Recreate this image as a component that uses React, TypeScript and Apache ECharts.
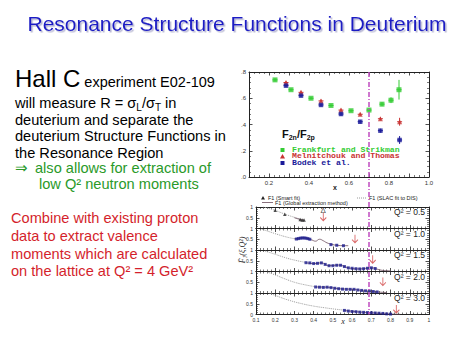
import React, { useEffect, useRef } from 'react';
import * as echarts from 'echarts';

const TITLE = 'Resonance Structure Functions in Deuterium';

// ---- Top chart: F2n/F2p vs x ----
const fsX = [0.23, 0.31, 0.41, 0.51, 0.61, 0.70, 0.765, 0.81, 0.85];
const fsY = [0.74, 0.665, 0.6, 0.545, 0.505, 0.51, 0.555, 0.585, 0.665];
const fsErr = [0.012, 0.01, 0.01, 0.01, 0.01, 0.012, 0.015, 0.022, 0.075];
const mtX = [0.285, 0.36, 0.46, 0.56, 0.656, 0.757, 0.853];
const mtY = [0.72, 0.645, 0.58, 0.51, 0.478, 0.444, 0.421];
const mtErr = [0.012, 0.012, 0.012, 0.012, 0.012, 0.012, 0.03];
const bdX = [0.285, 0.36, 0.46, 0.56, 0.656, 0.757, 0.853];
const bdY = [0.696, 0.62, 0.549, 0.48, 0.421, 0.353, 0.282];
const bdErr = [0.012, 0.012, 0.012, 0.014, 0.014, 0.015, 0.03];
const topLegend = ['Frankfurt and Strikman', 'Melnitchouk and Thomas', 'Bodek et al.'];
const deltaLineX = 0.7;

// ---- Bottom chart: F1 panels ----
const q2Values = ['0.5', '1.0', '1.5', '2.0', '3.0'];
const slacQ05 = [[0.138, 1.0], [0.16, 0.95], [0.2, 0.84], [0.25, 0.67], [0.3, 0.52], [0.35, 0.39]];
const globalQ05 = [[0.3, 0.5], [0.33, 0.42], [0.35, 0.39]];
const dataQ05 = [[0.2, 0.85], [0.25, 0.66], [0.33, 0.42], [0.34, 0.4], [0.35, 0.39]];

const slacQ10 = [[0.13, 0.97], [0.16, 0.88], [0.2, 0.76], [0.24, 0.65], [0.28, 0.56], [0.31, 0.51]];
const globalQ10 = [[0.3, 0.52], [0.32, 0.54], [0.345, 0.57], [0.37, 0.53], [0.39, 0.47], [0.41, 0.41], [0.43, 0.5], [0.45, 0.43], [0.47, 0.33], [0.5, 0.25], [0.52, 0.22], [0.56, 0.2], [0.58, 0.2]];
const dataQ10 = [[0.31, 0.51], [0.32, 0.53], [0.33, 0.55], [0.34, 0.56], [0.35, 0.56], [0.36, 0.55], [0.37, 0.53], [0.38, 0.5], [0.49, 0.25], [0.52, 0.22], [0.555, 0.2]];

const slacQ15 = [[0.147, 0.95], [0.2, 0.8], [0.25, 0.65], [0.3, 0.53], [0.36, 0.42]];
const globalQ15 = [[0.36, 0.41], [0.4, 0.37], [0.44, 0.4], [0.48, 0.27], [0.53, 0.3], [0.58, 0.17], [0.64, 0.12], [0.7, 0.17], [0.73, 0.11], [0.76, 0.05], [0.8, 0.03]];
const dataQ15 = [[0.36, 0.41], [0.38, 0.4], [0.4, 0.37], [0.42, 0.38], [0.44, 0.4], [0.46, 0.33], [0.48, 0.27], [0.5, 0.27], [0.52, 0.29], [0.54, 0.29], [0.56, 0.23], [0.58, 0.17], [0.6, 0.15], [0.62, 0.13], [0.64, 0.12], [0.66, 0.13], [0.68, 0.15], [0.7, 0.17], [0.72, 0.14]];

const slacQ20 = [[0.16, 0.97], [0.2, 0.84], [0.25, 0.66], [0.3, 0.5], [0.35, 0.39], [0.41, 0.29]];
const globalQ20 = [[0.41, 0.28], [0.47, 0.27], [0.53, 0.2], [0.6, 0.17], [0.67, 0.1], [0.73, 0.05], [0.78, 0.02]];
const dataQ20 = [[0.41, 0.28], [0.43, 0.27], [0.45, 0.26], [0.47, 0.27], [0.49, 0.25], [0.51, 0.22], [0.53, 0.2], [0.55, 0.18], [0.57, 0.17], [0.59, 0.17], [0.61, 0.17], [0.63, 0.14], [0.65, 0.12], [0.67, 0.1], [0.69, 0.09], [0.71, 0.07], [0.73, 0.05]];

const slacQ30 = [[0.17, 1.0], [0.22, 0.82], [0.28, 0.64], [0.34, 0.5], [0.4, 0.39], [0.46, 0.31], [0.52, 0.24], [0.56, 0.2]];
const globalQ30 = [[0.56, 0.19], [0.62, 0.13], [0.7, 0.08], [0.8, 0.02], [0.85, 0.01]];
const dataQ30 = [[0.56, 0.19], [0.58, 0.16], [0.6, 0.14], [0.62, 0.13], [0.64, 0.11], [0.66, 0.1], [0.68, 0.09], [0.7, 0.08], [0.72, 0.07], [0.74, 0.06], [0.76, 0.05], [0.78, 0.03], [0.8, 0.02]];

const arrowX = [0.45, 0.615, 0.707, 0.76, 0.83];
const arrowY = [0.55, 0.52, 0.57, 0.53, 0.26];
const deltaMarkX = 0.45;
const deltaMarkY = 0.86;

const slacSets = [slacQ05, slacQ10, slacQ15, slacQ20, slacQ30];
const globalSets = [globalQ05, globalQ10, globalQ15, globalQ20, globalQ30];
const dataSets = [dataQ05, dataQ10, dataQ15, dataQ20, dataQ30];

const SANS = '"Liberation Sans", Arial, sans-serif';
const SERIF = '"Liberation Serif", "DejaVu Serif", serif';
const MONO = '"Liberation Mono", "DejaVu Sans Mono", monospace';

let mctx: CanvasRenderingContext2D | null = null;
function textW(t: string, size: number, family: string, weight = 'normal') {
  if (!mctx) mctx = document.createElement('canvas').getContext('2d');
  mctx!.font = `${weight} ${size}px ${family}`;
  return mctx!.measureText(t).width;
}
type Part = { t: string; size: number; dy?: number };
function inline(x: number, y: number, parts: Part[], color: string, family = SANS, weight = 'normal') {
  const els: any[] = [];
  let cx = x;
  for (const p of parts) {
    els.push({
      type: 'text', x: cx, y: y + (p.dy || 0), silent: true,
      style: { text: p.t, fontSize: p.size, lineHeight: Math.round(p.size * 0.85), fontFamily: family, fontWeight: weight, fill: color, align: 'left', verticalAlign: 'middle' },
    });
    cx += textW(p.t, p.size, family, weight);
  }
  return els;
}
function txt(x: number, y: number, t: string, size: number, color: string, extra: any = {}) {
  return {
    type: 'text', x, y, silent: true,
    style: { text: t, fontSize: size, lineHeight: Math.round(size * 0.9), fontFamily: SANS, fill: color, align: 'left', verticalAlign: 'middle', ...extra },
  };
}

const AX = '#222';
function xAx(gridIndex: number, position: string, show: boolean, formatter: any, minorSplit: number, fontSize: number) {
  return {
    type: 'value', gridIndex, position, min: 0.1, max: 1.0, interval: 0.1,
    axisLine: { show: true, onZero: false, lineStyle: { color: AX, width: 1 } },
    axisTick: { show: true, inside: true, length: 3.5, lineStyle: { color: AX, width: 0.8 } },
    minorTick: { show: true, splitNumber: minorSplit, length: 2, lineStyle: { color: AX, width: 0.6 } },
    splitLine: { show: false },
    axisLabel: { show, fontSize, color: '#333', margin: 3, fontFamily: SANS, formatter },
  };
}
function yAx(gridIndex: number, position: string, min: number, max: number, interval: number, show: boolean, formatter: any, minorSplit: number, fontSize: number) {
  return {
    type: 'value', gridIndex, position, min, max, interval,
    axisLine: { show: true, onZero: false, lineStyle: { color: AX, width: 1 } },
    axisTick: { show: true, inside: true, length: 3.5, lineStyle: { color: AX, width: 0.8 } },
    minorTick: { show: true, splitNumber: minorSplit, length: 2, lineStyle: { color: AX, width: 0.6 } },
    splitLine: { show: false },
    axisLabel: { show, fontSize, color: '#333', margin: 3, fontFamily: SANS, formatter },
  };
}

function errSeries(xs: number[], ys: number[], es: number[], color: string) {
  return {
    type: 'custom', xAxisIndex: 0, yAxisIndex: 0, silent: true, z: 3,
    data: xs.map((x, i) => [x, ys[i] - es[i], ys[i] + es[i], ys[i]]),
    renderItem: (_p: any, api: any) => {
      const lo = api.coord([api.value(0), api.value(1)]);
      const hi = api.coord([api.value(0), api.value(2)]);
      const c = api.coord([api.value(0), api.value(3)]);
      return {
        type: 'group',
        children: [
          { type: 'line', shape: { x1: lo[0], y1: lo[1], x2: hi[0], y2: hi[1] }, style: { stroke: color, lineWidth: 1 } },
          { type: 'line', shape: { x1: c[0] - 2.5, y1: c[1], x2: c[0] + 2.5, y2: c[1] }, style: { stroke: color, lineWidth: 1 } },
        ],
      };
    },
  };
}

export default function App() {
  const ref = useRef<HTMLDivElement>(null);
  useEffect(() => {
    if (!ref.current) return;
    const chart = echarts.init(ref.current, null, { renderer: 'svg' });

    const panelTop = 207;
    const panelH = 21.5;
    const grids: any[] = [{ left: 249, top: 72, width: 180, height: 105 }];
    for (let i = 0; i < 5; i++) grids.push({ left: 256, top: panelTop + i * panelH, width: 173, height: panelH });

    const xAxes: any[] = [
      xAx(0, 'bottom', true, (v: number) => { const k = Math.round(v * 10); return k % 2 === 0 ? (k / 10).toFixed(1) : ''; }, 4, 6),
      xAx(0, 'top', false, null, 4, 6),
    ];
    const yAxes: any[] = [
      yAx(0, 'left', 0, 0.8, 0.2, true, (v: number) => '.' + Math.round(v * 10), 5, 6),
      yAx(0, 'right', 0, 0.8, 0.2, false, null, 5, 6),
    ];
    for (let i = 0; i < 5; i++) {
      const last = i === 4;
      xAxes.push(xAx(i + 1, 'bottom', last, (v: number) => { const k = Math.round(v * 10); return k === 10 ? '1' : (k / 10).toFixed(1); }, 5, 5));
      xAxes.push(xAx(i + 1, 'top', false, null, 5, 5));
      yAxes.push(yAx(i + 1, 'left', 0, 1, 0.5, true, (v: number) => (v === 0 ? (last ? '0' : '') : v === 1 ? '1' : '0.5'), 5, 5));
      yAxes.push(yAx(i + 1, 'right', 0, 1, 0.5, false, null, 5, 5));
    }

    const series: any[] = [
      errSeries(fsX, fsY, fsErr, '#33cc33'),
      errSeries(mtX, mtY, mtErr, '#c83232'),
      errSeries(bdX, bdY, bdErr, '#1a1a99'),
      { type: 'scatter', name: topLegend[0], xAxisIndex: 0, yAxisIndex: 0, symbol: 'rect', symbolSize: 5, itemStyle: { color: '#33cc33' }, data: fsX.map((x, i) => [x, fsY[i]]), z: 4 },
      { type: 'scatter', name: topLegend[1], xAxisIndex: 0, yAxisIndex: 0, symbol: 'triangle', symbolSize: 5, itemStyle: { color: '#c83232' }, data: mtX.map((x, i) => [x, mtY[i]]), z: 4 },
      { type: 'scatter', name: topLegend[2], xAxisIndex: 0, yAxisIndex: 0, symbol: 'rect', symbolSize: 4.5, itemStyle: { color: '#1a1a99' }, data: bdX.map((x, i) => [x, bdY[i]]), z: 4 },
    ];
    for (let i = 0; i < 5; i++) {
      const ax = 2 + 2 * i;
      series.push({
        type: 'line', xAxisIndex: ax, yAxisIndex: ax, data: slacSets[i], showSymbol: false, smooth: true,
        lineStyle: { color: '#9a9a9a', width: 1, type: 'dotted' }, z: 2,
      });
      series.push({
        type: 'line', xAxisIndex: ax, yAxisIndex: ax, data: globalSets[i], showSymbol: false, smooth: true,
        lineStyle: { color: '#6a4a5a', width: 0.8 }, z: 3,
      });
      series.push({
        type: 'scatter', xAxisIndex: ax, yAxisIndex: ax, data: dataSets[i],
        symbol: i === 0 ? 'triangle' : 'rect', symbolSize: i === 0 ? 3.5 : 3,
        itemStyle: { color: i === 0 ? '#222' : '#1a1a8c' }, z: 4,
      });
      series.push({
        type: 'scatter', xAxisIndex: ax, yAxisIndex: ax, data: [[arrowX[i], arrowY[i]]],
        symbol: 'path://M5,0 L5,10 M1,6 L5,10 L9,6', symbolSize: [6, 8],
        itemStyle: { color: 'transparent', borderColor: '#d04040', borderWidth: 1 }, z: 5,
      });
    }
    series.push({
      type: 'scatter', xAxisIndex: 2, yAxisIndex: 2, data: [[deltaMarkX, deltaMarkY]], symbolSize: 0.1,
      label: { show: true, position: 'inside', formatter: 'Δ', fontSize: 8, color: '#222', fontFamily: SANS }, z: 5,
    });

    const g: any[] = [];
    g.push({
      type: 'text', x: 237, y: 23, silent: true,
      style: {
        text: TITLE, fontSize: 21, fontFamily: SANS, fill: '#1c1cc4', align: 'center', verticalAlign: 'middle',
        textShadowColor: 'rgba(120,120,170,0.55)', textShadowOffsetX: 1.5, textShadowOffsetY: 1.5, textShadowBlur: 1.5,
      },
    });
    const BODY = 14.6;
    g.push(txt(15, 78.5, 'Hall C', 24, '#000'));
    g.push(txt(15 + textW('Hall C', 24, SANS) + 4, 82, 'experiment E02-109', 14.5, '#000'));
    g.push(...inline(15, 103, [
      { t: 'will measure R = σ', size: BODY }, { t: 'L', size: 10, dy: 4.5 }, { t: '/σ', size: BODY }, { t: 'T', size: 10, dy: 4.5 }, { t: ' in', size: BODY },
    ], '#000'));
    g.push(txt(15, 119.5, 'deuterium and separate the', BODY, '#000'));
    g.push(txt(15, 136, 'deuterium Structure Functions in', BODY, '#000'));
    g.push(txt(15, 152.5, 'the Resonance Region', BODY, '#000'));
    g.push(txt(15, 168, '⇒', BODY, '#2a9a2a'));
    g.push(txt(35, 168, 'also allows for extraction of', BODY, '#2a9a2a'));
    g.push(txt(39, 184, 'low Q² neutron moments', BODY, '#2a9a2a'));
    g.push(txt(11, 218, 'Combine with existing proton', BODY, '#d41f2c'));
    g.push(txt(11, 236, 'data to extract valence', BODY, '#d41f2c'));
    g.push(txt(11, 253.5, 'moments which are calculated', BODY, '#d41f2c'));
    g.push(txt(11, 271, 'on the lattice at Q² = 4 GeV²', BODY, '#d41f2c'));

    // Top chart annotations
    g.push(...inline(282, 134, [
      { t: 'F', size: 11 }, { t: '2n', size: 7, dy: 3.5 }, { t: '/F', size: 11 }, { t: '2p', size: 7, dy: 3.5 },
    ], '#111', SANS, 'bold'));
    const legCols = ['#33cc33', '#c83232', '#1a1a99'];
    const legY = [150, 156.5, 163];
    g.push({ type: 'rect', shape: { x: 280.5, y: legY[0] - 2, width: 4, height: 4 }, style: { fill: legCols[0] }, silent: true });
    g.push({ type: 'polygon', shape: { points: [[282.5, legY[1] - 2.5], [285, legY[1] + 2], [280, legY[1] + 2]] }, style: { fill: legCols[1] }, silent: true });
    g.push({ type: 'rect', shape: { x: 280.5, y: legY[2] - 2, width: 4, height: 4 }, style: { fill: legCols[2] }, silent: true });
    for (let i = 0; i < 3; i++) {
      g.push({
        type: 'text', x: 292, y: legY[i], scaleX: 1.2, silent: true,
        style: { text: topLegend[i], fontSize: 6.8, lineHeight: 6, fontFamily: MONO, fontWeight: 'bold', fill: legCols[i], align: 'left', verticalAlign: 'middle' },
      });
    }
    g.push(txt(335, 187.5, 'x', 7, '#222', { fontWeight: 'bold', align: 'center' }));

    // Bottom chart legend
    g.push({ type: 'polygon', shape: { points: [[263, 196], [265, 199.5], [261, 199.5]] }, style: { fill: '#222' }, silent: true });
    g.push(txt(268, 198, 'F1 (Smart fit)', 5.5, '#222', { lineHeight: 4 }));
    g.push({ type: 'line', shape: { x1: 357, y1: 198, x2: 367, y2: 198 }, style: { stroke: '#9a9a9a', lineWidth: 1, lineDash: [1, 1] }, silent: true });
    g.push(txt(369, 198, 'F1 (SLAC fit to DIS)', 5.5, '#222', { lineHeight: 4 }));
    g.push({ type: 'line', shape: { x1: 262, y1: 202.5, x2: 273, y2: 202.5 }, style: { stroke: '#6a4a5a', lineWidth: 0.8 }, silent: true });
    g.push(txt(275, 202.5, 'F1 (Global extraction method)', 5.5, '#222', { lineHeight: 4 }));
    for (let i = 0; i < 5; i++) {
      g.push(txt(425, panelTop + i * panelH + 5, 'Q² = ' + q2Values[i], 8.5, '#222', { align: 'right' }));
    }
    g.push(txt(343, 321, 'x', 8, '#222', { fontFamily: SERIF, fontStyle: 'italic', align: 'center' }));
    g.push({
      type: 'text', x: 242, y: 250, rotation: Math.PI / 2, silent: true,
      style: { text: 'F̄₁(ξ,Q²)', fontSize: 8, fontFamily: SERIF, fontStyle: 'italic', fill: '#222', align: 'center', verticalAlign: 'middle' },
    });

    chart.setOption({
      animation: false,
      backgroundColor: '#ffffff',
      grid: grids,
      xAxis: xAxes,
      yAxis: yAxes,
      series,
      graphic: { elements: g },
    });

    const px = chart.convertToPixel({ xAxisIndex: 0 }, deltaLineX) as number;
    const yTop = chart.convertToPixel({ yAxisIndex: 0 }, 0.8) as number;
    const yBot = chart.convertToPixel({ yAxisIndex: 10 }, 0) as number;
    chart.setOption({
      graphic: {
        elements: [{
          id: 'vline', type: 'line', silent: true, z: 10,
          shape: { x1: px, y1: yTop, x2: px, y2: yBot },
          style: { stroke: '#c04cc0', lineWidth: 1.5, lineDash: [5, 2, 1, 2] },
        }],
      },
    });

    return () => chart.dispose();
  }, []);
  return <div ref={ref} style={{ position: 'fixed', left: 0, top: 0, width: 474, height: 355, background: '#fff' }} />;
}
